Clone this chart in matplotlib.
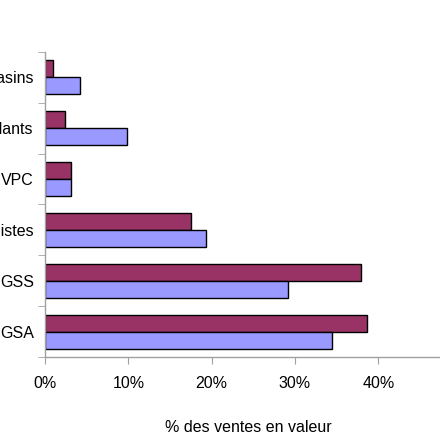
import numpy as np
import matplotlib
matplotlib.use('Agg')
import matplotlib.pyplot as plt
from matplotlib.ticker import FixedLocator, FuncFormatter

# categories from bottom to top
categories = ['GSA', 'GSS', 'Spécialistes', 'VPC', 'Ambulants', 'Magasins']
serie_haut = [38.6, 37.9, 17.5, 3.1, 2.4, 0.9]   # bordeaux
serie_bas = [34.4, 29.2, 19.3, 3.1, 9.8, 4.2]    # lavande
xticks = [0, 10, 20, 30, 40]

plt.rcParams['font.family'] = ['Liberation Sans', 'DejaVu Sans']

fig = plt.figure(figsize=(4.4, 4.4), dpi=100)
ax = fig.add_axes([45 / 440, 1 - 357 / 440, 1 - 45 / 440, (357 - 52) / 440])

y = np.arange(len(categories))
h = 1 / 3
ax.barh(y + h / 2, serie_haut, height=h, color='#993366', edgecolor='black', linewidth=1)
ax.barh(y - h / 2, serie_bas, height=h, color='#9999FF', edgecolor='black', linewidth=1)

ax.set_xlim(0, 47.4)
ax.set_ylim(-0.5, len(categories) - 0.5)

ax.set_xticks(xticks)
ax.xaxis.set_major_formatter(FuncFormatter(lambda v, p: f'{v:.0f}%'))
ax.set_yticks(y)
ax.set_yticklabels(categories)
ax.yaxis.set_minor_locator(FixedLocator(np.arange(-0.5, len(categories), 1)))

ax.tick_params(axis='y', which='major', length=0, pad=8, labelsize=11.5)
ax.tick_params(axis='y', which='minor', length=5, color='#a0a0a0', direction='out')
ax.tick_params(axis='x', length=5, color='#a0a0a0', direction='out', pad=9, labelsize=11.5)

for s in ['top', 'right']:
    ax.spines[s].set_visible(False)
for s in ['left', 'bottom']:
    ax.spines[s].set_color('#a0a0a0')
    ax.spines[s].set_linewidth(1)

ax.set_xlabel('% des ventes en valeur', fontsize=11.5)
ax.xaxis.set_label_coords((248 - 45) / 395, -(420 - 357) / 305)

fig.savefig('out.png', dpi=100)
